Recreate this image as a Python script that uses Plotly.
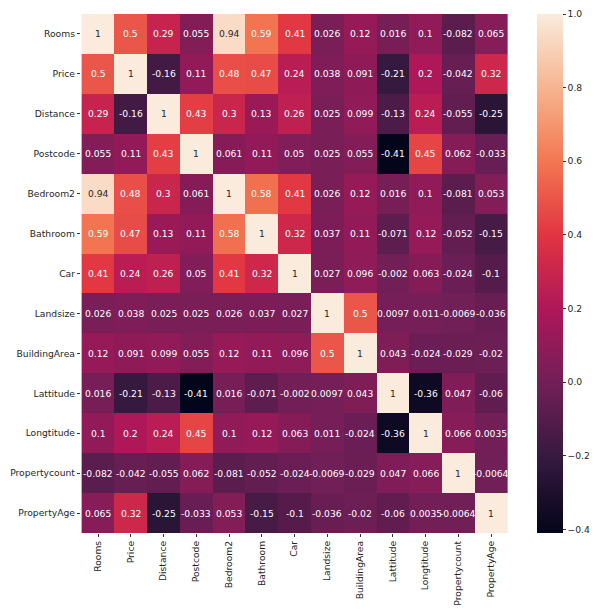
import plotly.graph_objects as go

labels = ["Rooms", "Price", "Distance", "Postcode", "Bedroom2", "Bathroom", "Car",
          "Landsize", "BuildingArea", "Lattitude", "Longtitude", "Propertycount", "PropertyAge"]

rooms         = [1, 0.5, 0.29, 0.055, 0.94, 0.59, 0.41, 0.026, 0.12, 0.016, 0.1, -0.082, 0.065]
price         = [0.5, 1, -0.16, 0.11, 0.48, 0.47, 0.24, 0.038, 0.091, -0.21, 0.2, -0.042, 0.32]
distance      = [0.29, -0.16, 1, 0.43, 0.3, 0.13, 0.26, 0.025, 0.099, -0.13, 0.24, -0.055, -0.25]
postcode      = [0.055, 0.11, 0.43, 1, 0.061, 0.11, 0.05, 0.025, 0.055, -0.41, 0.45, 0.062, -0.033]
bedroom2      = [0.94, 0.48, 0.3, 0.061, 1, 0.58, 0.41, 0.026, 0.12, 0.016, 0.1, -0.081, 0.053]
bathroom      = [0.59, 0.47, 0.13, 0.11, 0.58, 1, 0.32, 0.037, 0.11, -0.071, 0.12, -0.052, -0.15]
car           = [0.41, 0.24, 0.26, 0.05, 0.41, 0.32, 1, 0.027, 0.096, -0.002, 0.063, -0.024, -0.1]
landsize      = [0.026, 0.038, 0.025, 0.025, 0.026, 0.037, 0.027, 1, 0.5, 0.0097, 0.011, -0.0069, -0.036]
buildingarea  = [0.12, 0.091, 0.099, 0.055, 0.12, 0.11, 0.096, 0.5, 1, 0.043, -0.024, -0.029, -0.02]
lattitude     = [0.016, -0.21, -0.13, -0.41, 0.016, -0.071, -0.002, 0.0097, 0.043, 1, -0.36, 0.047, -0.06]
longtitude    = [0.1, 0.2, 0.24, 0.45, 0.1, 0.12, 0.063, 0.011, -0.024, -0.36, 1, 0.066, 0.0035]
propertycount = [-0.082, -0.042, -0.055, 0.062, -0.081, -0.052, -0.024, -0.0069, -0.029, 0.047, 0.066, 1, -0.0064]
propertyage   = [0.065, 0.32, -0.25, -0.033, 0.053, -0.15, -0.1, -0.036, -0.02, -0.06, 0.0035, -0.0064, 1]

z = [rooms, price, distance, postcode, bedroom2, bathroom, car, landsize,
     buildingarea, lattitude, longtitude, propertycount, propertyage]

cbar_ticks = [-0.4, -0.2, 0.0, 0.2, 0.4, 0.6, 0.8, 1.0]

rocket = [
    [0.0, "#03051a"],
    [1/7, "#35193e"],
    [2/7, "#701f57"],
    [3/7, "#ad1759"],
    [4/7, "#e13342"],
    [5/7, "#f37651"],
    [6/7, "#f6b48f"],
    [1.0, "#faebdd"],
]

zmin = min(min(r) for r in z)
zmax = 1.0
FONT = "DejaVu Sans"
FS = 9.2
TXT = "#262626"

fig = go.Figure(go.Heatmap(
    z=z, x=labels, y=labels,
    colorscale=rocket, zmin=zmin, zmax=zmax,
    xgap=0, ygap=0,
    colorbar=dict(
        x=1.0605, xanchor="left", y=0.5, yanchor="middle", len=1.0, lenmode="fraction",
        thickness=26, thicknessmode="pixels", xpad=0, ypad=0,
        outlinewidth=0,
        tickvals=cbar_ticks,
        tickformat=".1f",
        ticklabeloverflow="allow",
        ticks="outside", ticklen=3.2, tickwidth=0.8, tickcolor="#333",
        tickfont=dict(family=FONT, size=FS, color=TXT),
    ),
    hoverinfo="skip",
))

annotations = []
for i, row in enumerate(z):
    for j, v in enumerate(row):
        annotations.append(dict(
            x=labels[j], y=labels[i], xref="x", yref="y",
            text=f"{v:.2g}", showarrow=False,
            font=dict(family=FONT, size=FS,
                      color=TXT if v > 0.7 else "white"),
        ))

axis_common = dict(ticks="outside", ticklen=3.2, tickwidth=0.8, tickcolor="#333",
                   tickfont=dict(family=FONT, size=FS, color=TXT),
                   showgrid=False, zeroline=False, showline=False, automargin=False)

# page body has an 8px margin, so the figure is offset by 8px
fig.update_layout(
    template="none",
    width=592, height=606,
    margin=dict(l=73, r=89, t=6, b=81),
    paper_bgcolor="white", plot_bgcolor="white",
    annotations=annotations,
    xaxis=dict(tickangle=-90, **axis_common),
    yaxis=dict(autorange="reversed", **axis_common),
)

fig.write_html("out.html")
